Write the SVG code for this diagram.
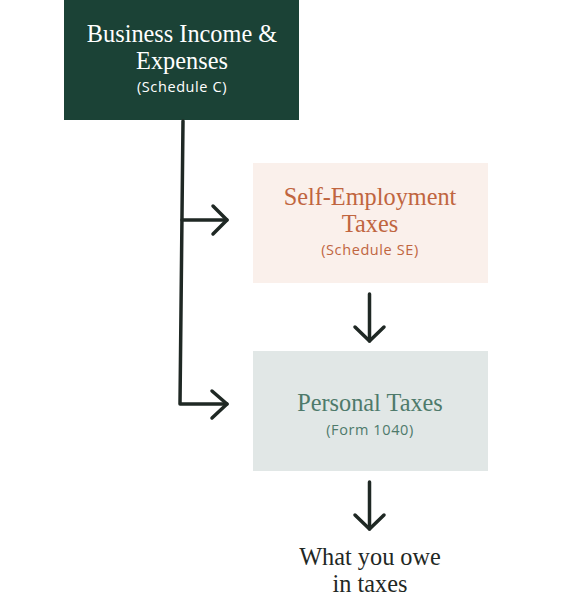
<svg xmlns="http://www.w3.org/2000/svg" width="566" height="614" viewBox="0 0 566 614">
<style>
.serif{font-family:"Liberation Serif","DejaVu Serif",serif;text-anchor:middle;font-size:24.3px}
.sans{font-family:"Open Sans",Lato,"Liberation Sans",sans-serif;text-anchor:middle;letter-spacing:0.6px;font-size:14.5px}
.conn{fill:none;stroke:#1f2824;stroke-width:3.5;stroke-linecap:round;stroke-linejoin:round}
</style>
<rect width="566" height="614" fill="#ffffff"/>
<g id="node-business">
<rect x="64" y="0" width="235" height="120" fill="#1b4236"/>
<text class="serif" x="182" y="42" fill="#ffffff">Business Income &amp;</text>
<text class="serif" x="182" y="69" fill="#ffffff">Expenses</text>
<text class="sans" x="182" y="92" fill="#ffffff">(Schedule C)</text>
</g>
<g id="node-selfemployment">
<rect x="253" y="163" width="235" height="120" fill="#faf0eb"/>
<text class="serif" x="370" y="205" fill="#c0653f">Self-Employment</text>
<text class="serif" x="370" y="232" fill="#c0653f">Taxes</text>
<text class="sans" x="370" y="255" fill="#c0653f">(Schedule SE)</text>
</g>
<g id="node-personal">
<rect x="253" y="351" width="235" height="120" fill="#e1e7e6"/>
<text class="serif" x="370" y="411" fill="#4e7a6b">Personal Taxes</text>
<text class="sans" x="370" y="435" fill="#4e7a6b">(Form 1040)</text>
</g>
<g id="node-owe">
<text class="serif" x="370" y="565" fill="#1f2824">What you owe</text>
<text class="serif" x="370" y="592" fill="#1f2824">in taxes</text>
</g>
<g id="connectors">
<path class="conn" d="M183 121 L180 404 L227 404"/>
<path class="conn" d="M212 391 L227 404 L212 418"/>
<path class="conn" d="M182 220 L227 220"/>
<path class="conn" d="M213 206 L227 220 L213 234"/>
<path class="conn" d="M369.5 294 L369.5 341"/>
<path class="conn" d="M355 327 L369.5 341 L384 327"/>
<path class="conn" d="M369.5 482 L369.5 529"/>
<path class="conn" d="M355 515 L369.5 529 L384 515"/>
</g>
</svg>
